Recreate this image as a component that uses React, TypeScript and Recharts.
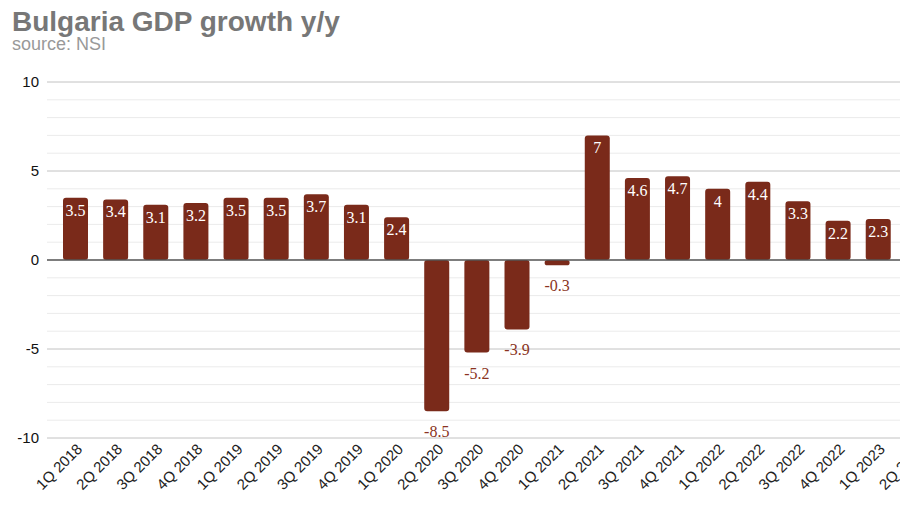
import React from 'react';
import {
  BarChart,
  Bar,
  XAxis,
  YAxis,
  CartesianGrid,
  ReferenceLine,
  LabelList,
} from 'recharts';

const quarters = [
  '1Q 2018', '2Q 2018', '3Q 2018', '4Q 2018',
  '1Q 2019', '2Q 2019', '3Q 2019', '4Q 2019',
  '1Q 2020', '2Q 2020', '3Q 2020', '4Q 2020',
  '1Q 2021', '2Q 2021', '3Q 2021', '4Q 2021',
  '1Q 2022', '2Q 2022', '3Q 2022', '4Q 2022',
  '1Q 2023', '2Q 2023',
];

const growth: (number | null)[] = [
  3.5, 3.4, 3.1, 3.2,
  3.5, 3.5, 3.7, 3.1,
  2.4, -8.5, -5.2, -3.9,
  -0.3, 7, 4.6, 4.7,
  4, 4.4, 3.3, 2.2,
  2.3, null,
];

const yTicks = [-10, -9, -8, -7, -6, -5, -4, -3, -2, -1, 0, 1, 2, 3, 4, 5, 6, 7, 8, 9, 10];
const majorTicks = [-10, -5, 5, 10];

const data = quarters.map((q, i) => ({ quarter: q, value: growth[i] }));

const BAR_COLOR = '#7a2a1a';
const SANS = '"Liberation Sans", Arial, sans-serif';
const SERIF = '"Liberation Serif", "Times New Roman", serif';

// y axis only prints every fifth value, minor lines stay unlabeled
const YTick = (props: any) => {
  const { x, y, payload } = props;
  if (payload.value % 5 !== 0) return null;
  return (
    <text x={x} y={y} dy={5} textAnchor="end" fontSize={15} fontFamily={SANS} fill="#111">
      {payload.value}
    </text>
  );
};

const XTick = (props: any) => {
  const { x, y, payload } = props;
  const ax = x + 8;
  const ay = y + 4;
  return (
    <text
      x={ax}
      y={ay}
      textAnchor="end"
      fontSize={15}
      fontFamily={SANS}
      fill="#222"
      transform={`rotate(-45, ${ax}, ${ay})`}
    >
      {payload.value}
    </text>
  );
};

const ValueLabel = (props: any) => {
  const { x, y, width, height, value } = props;
  if (value == null) return null;
  const top = Math.min(y, y + height);
  const bottom = Math.max(y, y + height);
  const cx = x + width / 2;
  if (value >= 0) {
    return (
      <text x={cx} y={top + 18} textAnchor="middle" fontSize={16} fontFamily={SERIF} fill="#fff">
        {value}
      </text>
    );
  }
  return (
    <text x={cx} y={bottom + 26} textAnchor="middle" fontSize={16} fontFamily={SERIF} fill="#8a3322">
      {value}
    </text>
  );
};

export default function App() {
  return (
    <div
      style={{
        position: 'absolute',
        top: 0,
        left: 0,
        width: 900,
        height: 510,
        overflow: 'hidden',
        background: '#fff',
      }}
    >
      <div
        style={{
          position: 'absolute',
          top: 8,
          left: 12,
          fontFamily: SANS,
          fontWeight: 'bold',
          fontSize: 28,
          lineHeight: '28px',
          color: '#777',
          whiteSpace: 'nowrap',
        }}
      >
        Bulgaria GDP growth y/y
      </div>
      <div
        style={{
          position: 'absolute',
          top: 37,
          left: 12,
          fontFamily: SANS,
          fontSize: 18,
          lineHeight: '14px',
          color: '#999',
          whiteSpace: 'nowrap',
        }}
      >
        source: NSI
      </div>

      <BarChart
        width={940}
        height={510}
        data={data}
        margin={{ top: 82, right: 2, left: 7, bottom: 0 }}
      >
        <CartesianGrid vertical={false} stroke="#ebebeb" />
        <CartesianGrid vertical={false} horizontalValues={majorTicks} stroke="#cccccc" />
        <XAxis
          dataKey="quarter"
          interval={0}
          height={72}
          axisLine={false}
          tickLine={false}
          padding={{ left: 8, right: 0 }}
          tick={<XTick />}
        />
        <YAxis
          width={40}
          domain={[-10, 10]}
          ticks={yTicks}
          interval={0}
          axisLine={false}
          tickLine={false}
          tick={<YTick />}
        />
        <Bar dataKey="value" fill={BAR_COLOR} barSize={25} radius={3} isAnimationActive={false}>
          <LabelList dataKey="value" content={<ValueLabel />} />
        </Bar>
        <ReferenceLine y={0} stroke="#555" strokeWidth={1.5} />
      </BarChart>
    </div>
  );
}
